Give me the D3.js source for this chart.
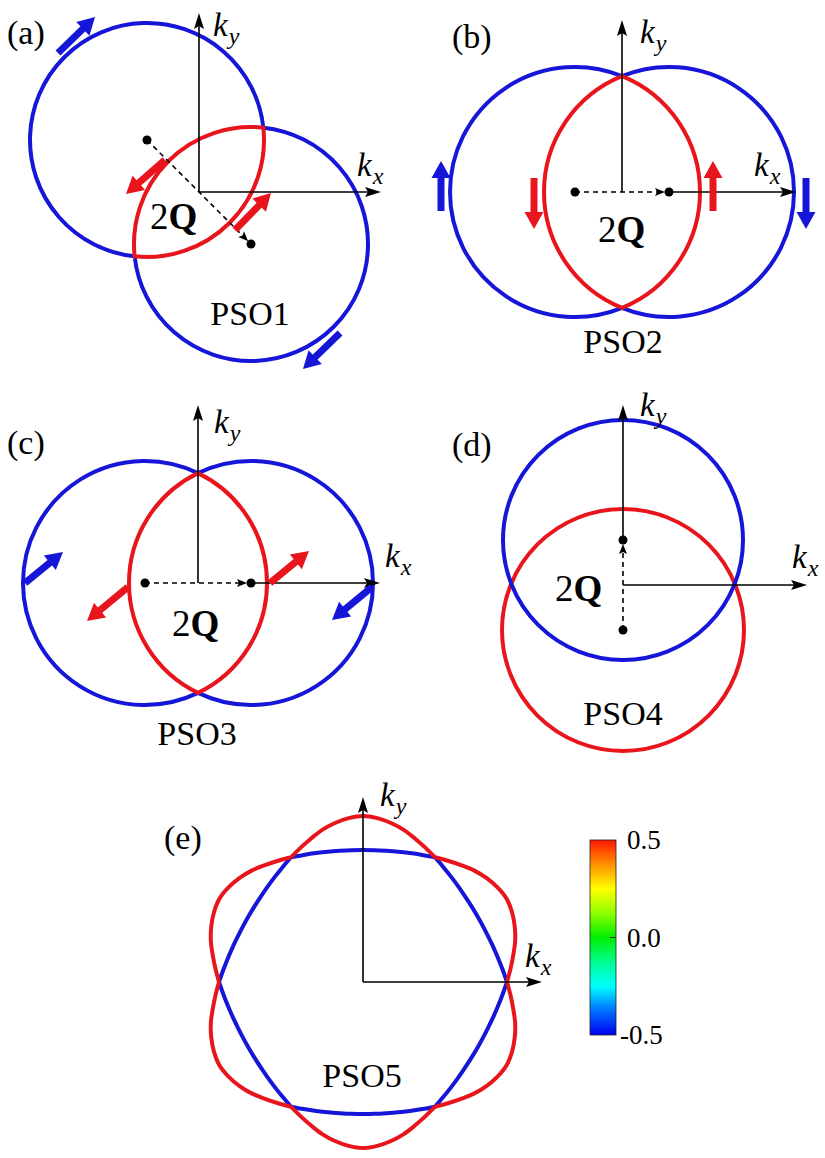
<!DOCTYPE html>
<html><head><meta charset="utf-8">
<script src="https://cdn.jsdelivr.net/npm/d3@7"></script>
<style>body{margin:0;background:#fff}</style>
</head><body>
<svg id="chart" width="825" height="1158" style='font-family:"Liberation Serif"'></svg>
<script>
// ---------------- data (k-space units) ----------------
const panelLetters = ["(a)", "(b)", "(c)", "(d)", "(e)"];
const panelNames = ["PSO1", "PSO2", "PSO3", "PSO4", "PSO5"];
// half of the 2Q shift between the two spin-split Fermi circles (kx, ky)
const qVectors = [[0.52, -0.52], [0.47, 0], [0.53, 0], [0, 0.45]];
// Fermi radii [circle at -Q, circle at +Q]
const fermiRadii = [[1.17, 1.17], [1.25, 1.25], [1.22, 1.22], [1.21, 1.20]];
// spin arrows: [tail kx, tail ky, tip kx, tip ky, spin(-0.5 / +0.5)]
const spinArrowsA = [[-1.41, 1.39, -1.04, 1.75, -0.5], [-0.34, 0.32, -0.73, -0.02, 0.5], [0.36, -0.38, 0.72, -0.01, 0.5], [1.41, -1.41, 1.04, -1.77, -0.5]];
const spinArrowsB = [[-1.81, -0.19, -1.81, 0.31, -0.5], [-0.88, 0.14, -0.88, -0.37, 0.5], [0.91, -0.19, 0.91, 0.31, 0.5], [1.84, 0.14, 1.84, -0.37, -0.5]];
const spinArrowsC = [[-1.73, 0, -1.35, 0.31, -0.5], [-0.70, -0.04, -1.11, -0.38, 0.5], [0.72, 0, 1.11, 0.32, 0.5], [1.74, -0.04, 1.34, -0.37, -0.5]];
// PSO5: radius profile over one 60 degree sector (six-fold pattern)
const sectorAngles = [0, 5, 10, 15, 20, 25, 30, 35, 40, 45, 50, 55, 60];
const outerBandRadius = [1.44, 1.48, 1.525, 1.575, 1.615, 1.645, 1.66, 1.645, 1.615, 1.575, 1.525, 1.48, 1.44];
const innerBandRadius = [1.44, 1.402, 1.372, 1.349, 1.332, 1.323, 1.32, 1.323, 1.332, 1.349, 1.372, 1.402, 1.44];
const sectorStarts = [0, 60, 120, 180, 240, 300];
// colour bar
const colorbarTicks = [0.5, 0.0, -0.5];
const colorbarTickLabels = ["0.5", "0.0", "-0.5"];
const colorbarColors = ["#0000f0", "#0070ff", "#00ffff", "#00ff90", "#00ee00", "#90ff00", "#ffff00", "#ff9000", "#ff1800"];

// ---------------- layout ----------------
const kUnit = 100;
const BLUE = "#1616d8", RED = "#e8161c";
const spinColor = d3.scaleThreshold().domain([0]).range([BLUE, RED]);
const svg = d3.select("#chart");
const marks = svg.append("g");

const layout = [
  {o: [199, 192], kx: [0, 1.82], ky: [0, 1.79], letter: [7, 44], kyL: [213, 36], kxL: [357, 176], q2: [150, 229], name: [250, 325]},
  {o: [622, 192], kx: [0.47, 1.74], ky: [0, 1.72], letter: [452, 48], kyL: [640, 43], kxL: [754, 176], q2: [598, 242], name: [623, 353]},
  {o: [198, 583], kx: [0.53, 1.82], ky: [0, 1.78], letter: [7, 454], kyL: [214, 433], kxL: [385, 567], q2: [172, 636], name: [197, 745]},
  {o: [623, 585], kx: [0, 1.84], ky: [0.45, 1.80], letter: [452, 456], kyL: [640, 416], kxL: [792, 568], q2: [555, 601], name: [623, 725]},
  {o: [363, 982], kx: [0, 1.79], ky: [0, 1.85], letter: [164, 849], kyL: [380, 806], kxL: [525, 967], q2: null, name: [362, 1087]}
];

function scales(L) {
  return {
    x: d3.scaleLinear().domain([0, 1]).range([L.o[0], L.o[0] + kUnit]),
    y: d3.scaleLinear().domain([0, 1]).range([L.o[1], L.o[1] - kUnit]),
    r: d3.scaleLinear().domain([0, 1]).range([0, kUnit])
  };
}

function arrowHead(g, x1, y1, x2, y2, len, hw, color, notch) {
  const dx = x2 - x1, dy = y2 - y1, L = Math.hypot(dx, dy);
  const ux = dx / L, uy = dy / L, nx = -uy, ny = ux;
  const bx = x2 - ux * len, by = y2 - uy * len;
  const nb = notch || 0;
  const pts = [[x2, y2], [bx + nx * hw, by + ny * hw], [bx + ux * nb, by + uy * nb], [bx - nx * hw, by - ny * hw]];
  g.append("path").attr("d", d3.line()(pts) + "Z").attr("fill", color).attr("stroke", "none");
  return [bx + ux * nb, by + uy * nb];
}

function axisArrow(g, x1, y1, x2, y2) {
  const base = arrowHead(g, x1, y1, x2, y2, 16, 5, "#000", 3);
  g.append("line").attr("x1", x1).attr("y1", y1).attr("x2", base[0]).attr("y2", base[1])
    .attr("stroke", "#000").attr("stroke-width", 1.6);
}

function spinArrow(g, s, a) {
  const x1 = s.x(a[0]), y1 = s.y(a[1]), x2 = s.x(a[2]), y2 = s.y(a[3]);
  const col = spinColor(a[4]);
  const dx = x2 - x1, dy = y2 - y1, L = Math.hypot(dx, dy);
  const hx = x2 - dx / L * 16, hy = y2 - dy / L * 16;
  g.append("line").attr("x1", x1).attr("y1", y1).attr("x2", hx + dx / L).attr("y2", hy + dy / L)
    .attr("stroke", col).attr("stroke-width", 7);
  arrowHead(g, x1, y1, x2, y2, 17, 9.5, col, 0);
}

// all texts appended directly to the svg root
function newText(x, y, size) {
  return svg.append("text").attr("x", x).attr("y", y)
    .attr("font-family", "Liberation Serif")
    .style("font-family", '"Liberation Serif"')
    .style("font-size", size + "px");
}

function kLabel(pos, sub) {
  const t = newText(pos[0], pos[1], 33).style("font-style", "italic");
  t.append("tspan").style("font-family", '"Liberation Serif"').text("k");
  t.append("tspan").style("font-family", '"Liberation Serif"').style("font-size", "24px").attr("dy", 8).attr("dx", 1).text(sub);
}

function textAt(pos, str, size, anchor) {
  return newText(pos[0], pos[1], size).attr("text-anchor", anchor || "start").text(str);
}

function twoQ(pos) {
  const t = newText(pos[0], pos[1], 37);
  t.append("tspan").style("font-family", '"Liberation Serif"').text("2");
  t.append("tspan").style("font-family", '"Liberation Serif"').style("font-weight", "bold").text("Q");
}

// two circles: outer arcs (blue) and inner lens (red)
function splitCircles(g, s, q, radii) {
  const c1 = [s.x(-q[0]), s.y(-q[1])], c2 = [s.x(q[0]), s.y(q[1])];
  const r1 = s.r(radii[0]), r2 = s.r(radii[1]);
  const d = Math.hypot(c2[0] - c1[0], c2[1] - c1[1]);
  const ao1 = Math.atan2(c2[1] - c1[1], c2[0] - c1[0]), ao2 = ao1 + Math.PI;
  const h1 = Math.acos((d * d + r1 * r1 - r2 * r2) / (2 * d * r1));
  const h2 = Math.acos((d * d + r2 * r2 - r1 * r1) / (2 * d * r2));
  const outer = d3.path();
  outer.moveTo(c1[0] + r1 * Math.cos(ao1 + h1), c1[1] + r1 * Math.sin(ao1 + h1));
  outer.arc(c1[0], c1[1], r1, ao1 + h1, ao1 - h1 + 2 * Math.PI, false);
  outer.arc(c2[0], c2[1], r2, ao2 + h2, ao2 - h2 + 2 * Math.PI, false);
  outer.closePath();
  const inner = d3.path();
  inner.moveTo(c1[0] + r1 * Math.cos(ao1 - h1), c1[1] + r1 * Math.sin(ao1 - h1));
  inner.arc(c1[0], c1[1], r1, ao1 - h1, ao1 + h1, false);
  inner.arc(c2[0], c2[1], r2, ao2 - h2, ao2 + h2, false);
  inner.closePath();
  g.append("path").attr("d", outer.toString()).attr("fill", "none").attr("stroke", BLUE).attr("stroke-width", 4);
  g.append("path").attr("d", inner.toString()).attr("fill", "none").attr("stroke", RED).attr("stroke-width", 4);
  return [c1, c2];
}

function dashedQ(g, c1, c2) {
  const L = Math.hypot(c2[0] - c1[0], c2[1] - c1[1]);
  const ux = (c2[0] - c1[0]) / L, uy = (c2[1] - c1[1]) / L;
  const base = arrowHead(g, c1[0], c1[1], c2[0] - ux * 4, c2[1] - uy * 4, 10, 4, "#000", 2);
  g.append("line").attr("x1", c1[0]).attr("y1", c1[1]).attr("x2", base[0]).attr("y2", base[1])
    .attr("stroke", "#000").attr("stroke-width", 1.6).attr("stroke-dasharray", "5,4");
  [c1, c2].forEach(c => g.append("circle").attr("cx", c[0]).attr("cy", c[1]).attr("r", 4.5).attr("fill", "#000"));
}

const spinSets = [spinArrowsA, spinArrowsB, spinArrowsC];

layout.forEach((L, i) => {
  const g = marks.append("g");
  const s = scales(L);
  if (i < 3) {
    const cs = splitCircles(g, s, qVectors[i], fermiRadii[i]);
    axisArrow(g, s.x(0), s.y(L.ky[0]), s.x(0), s.y(L.ky[1]));
    axisArrow(g, s.x(L.kx[0]), s.y(0), s.x(L.kx[1]), s.y(0));
    dashedQ(g, cs[0], cs[1]);
    spinSets[i].forEach(a => spinArrow(g, s, a));
  } else if (i === 3) {
    const q = qVectors[3], rr = fermiRadii[3];
    g.append("circle").attr("cx", s.x(-q[0])).attr("cy", s.y(-q[1])).attr("r", s.r(rr[0]))
      .attr("fill", "none").attr("stroke", RED).attr("stroke-width", 4);
    g.append("circle").attr("cx", s.x(q[0])).attr("cy", s.y(q[1])).attr("r", s.r(rr[1]))
      .attr("fill", "none").attr("stroke", BLUE).attr("stroke-width", 4);
    axisArrow(g, s.x(0), s.y(L.ky[0]), s.x(0), s.y(L.ky[1]));
    axisArrow(g, s.x(L.kx[0]), s.y(0), s.x(L.kx[1]), s.y(0));
    dashedQ(g, [s.x(-q[0]), s.y(-q[1])], [s.x(q[0]), s.y(q[1])]);
  } else {
    const radial = d3.lineRadial().curve(d3.curveCatmullRom.alpha(0.5));
    const gg = g.append("g").attr("transform", `translate(${L.o[0]},${L.o[1]})`);
    [[innerBandRadius, BLUE], [outerBandRadius, RED]].forEach(([prof, col]) => {
      const dStr = sectorStarts.map(start => radial(sectorAngles.map((a, j) =>
        [Math.PI / 2 - (start + a) * Math.PI / 180, s.r(prof[j])]))).join("");
      gg.append("path").attr("d", dStr).attr("fill", "none").attr("stroke", col)
        .attr("stroke-width", 4).attr("stroke-linejoin", "round");
    });
    axisArrow(g, s.x(0), s.y(L.ky[0]), s.x(0), s.y(L.ky[1]));
    axisArrow(g, s.x(L.kx[0]), s.y(0), s.x(L.kx[1]), s.y(0));
  }
});

// ---------------- colour bar ----------------
const cb = {x: 590, w: 26, top: 840, bottom: 1035};
const cbScale = d3.scaleLinear().domain([-0.5, 0.5]).range([cb.bottom, cb.top]);
const defs = svg.append("defs");
const grad = defs.append("linearGradient").attr("id", "jet").attr("x1", 0).attr("y1", 1).attr("x2", 0).attr("y2", 0);
colorbarColors.forEach((c, i) => grad.append("stop").attr("offset", i / (colorbarColors.length - 1)).attr("stop-color", c));
marks.append("rect").attr("x", cb.x).attr("y", cbScale(0.5)).attr("width", cb.w).attr("height", cbScale(-0.5) - cbScale(0.5))
  .attr("fill", "url(#jet)").attr("stroke", "#222").attr("stroke-width", 0.8);
marks.append("line").attr("x1", cb.x + cb.w - 6).attr("x2", cb.x + cb.w).attr("y1", cbScale(0)).attr("y2", cbScale(0))
  .attr("stroke", "#222").attr("stroke-width", 1);

// ---------------- texts ----------------
layout.forEach((L, i) => {
  textAt(L.letter, panelLetters[i], 34);
  kLabel(L.kyL, "y");
  kLabel(L.kxL, "x");
  if (L.q2) twoQ(L.q2);
  textAt(L.name, panelNames[i], 34, "middle");
});
colorbarTicks.forEach((v, i) => {
  textAt([v < 0 ? cb.x + cb.w + 4 : cb.x + cb.w + 11, cbScale(v) + 9], colorbarTickLabels[i], 27);
});
</script>
</body></html>
